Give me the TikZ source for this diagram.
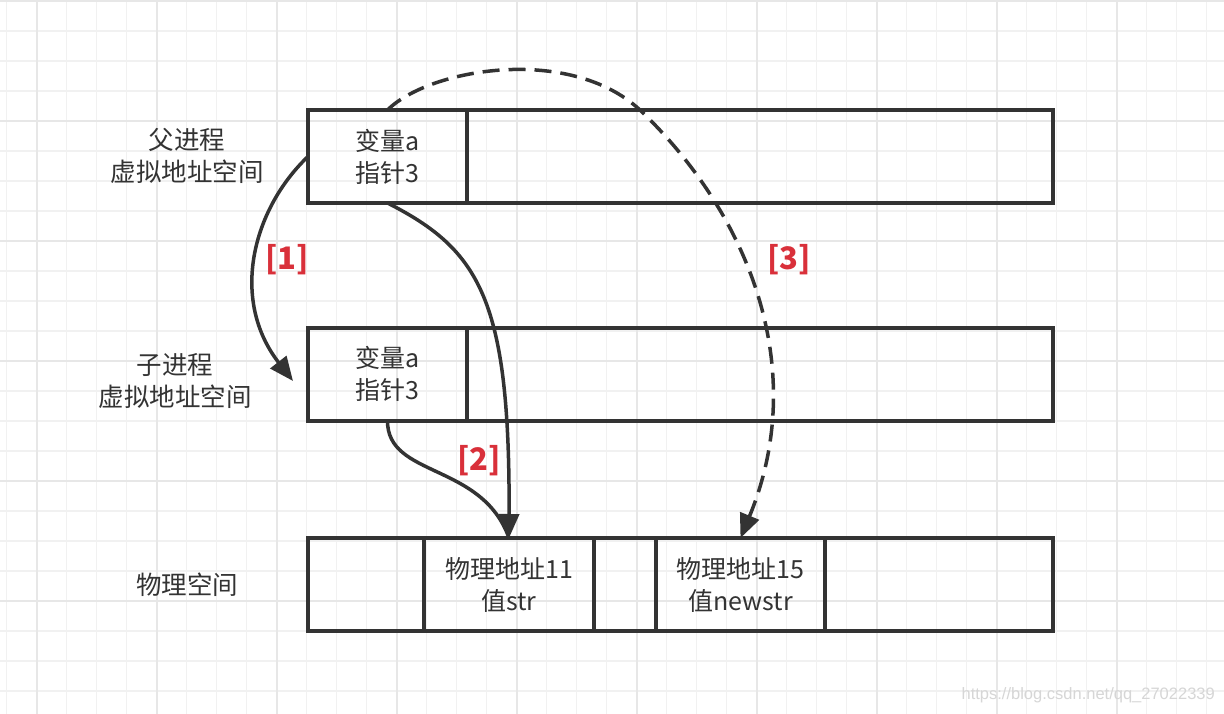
\documentclass[tikz,border=0pt]{standalone}
\usepackage{fontspec}
\newfontfamily\cjk{Noto Sans CJK SC}
\newfontfamily\wmfont{Liberation Sans}
\usetikzlibrary{arrows.meta}
\definecolor{ink}{HTML}{333333}
\definecolor{redlbl}{HTML}{D9303A}
\definecolor{gridminor}{HTML}{F1F1F1}
\definecolor{gridmajor}{HTML}{E7E7E7}
\definecolor{wmcol}{HTML}{D6D6D6}
\begin{document}
\begin{tikzpicture}[x=1pt,y=-1pt,
  cellbox/.style={draw=ink, line width=4pt, inner sep=0pt, outer sep=0pt,
    minimum height=93pt, font=\cjk\fontsize{25}{32}\selectfont, text=ink, align=center},
  sidelbl/.style={font=\cjk\fontsize{25.5}{32}\selectfont, text=ink, align=center},
  numlbl/.style={font=\cjk\bfseries\fontsize{31}{36}\selectfont, text=redlbl},
  arr/.style={draw=ink, line width=3.5pt, -{Triangle[length=24pt,width=20pt]}},
  plainarr/.style={draw=ink, line width=3.5pt},
  dasharr/.style={draw=ink, line width=3.5pt, dash pattern=on 17pt off 9pt,
    -{Triangle[length=24pt,width=20pt]}}
]
\useasboundingbox (0,0) rectangle (1224,714);
\fill[white] (0,0) rectangle (1224,714);
% grid
\foreach \i in {0,...,40} \draw[gridminor, line width=1.5pt] (6.7+30*\i,0) -- (6.7+30*\i,714);
\foreach \j in {0,...,23} \draw[gridminor, line width=1.5pt] (0,1+30*\j) -- (1224,1+30*\j);
\foreach \i in {0,...,9} \draw[gridmajor, line width=2pt] (36.7+120*\i,0) -- (36.7+120*\i,714);
\foreach \j in {0,...,5} \draw[gridmajor, line width=2pt] (0,1+120*\j) -- (1224,1+120*\j);

% left labels
\node[sidelbl] (L1) at (187,156) {父进程\\虚拟地址空间};
\node[sidelbl] (L2) at (175,381) {子进程\\虚拟地址空间};
\node[sidelbl] (L3) at (187,585) {物理空间};

% parent box
\node[cellbox, minimum width=159pt] (a1) at (387.5,156.5) {变量a\\指针3};
\node[cellbox, minimum width=586pt] (r1) at (760,156.5) {};
% child box
\node[cellbox, minimum width=159pt] (a2) at (387.5,374) {变量a\\指针3};
\node[cellbox, minimum width=586pt] (r2) at (760,374) {};
% physical
\node[cellbox, minimum width=116pt] (p0) at (366,584.5) {};
\node[cellbox, minimum width=170pt] (p11) at (509,584.5) {物理地址11\\值str};
\node[cellbox, minimum width=62pt] (pm) at (625,584.5) {};
\node[cellbox, minimum width=169pt] (p15) at (740.5,584.5) {物理地址15\\值newstr};
\node[cellbox, minimum width=228pt] (pr) at (939,584.5) {};

% connectors
\coordinate (e1) at (293,381);
\draw[arr] (a1.west) .. controls (252,210) and (230,300) .. (e1);
\draw[plainarr] (a2.south) .. controls (387,478) and (482,462) .. (p11.north);
\draw[arr] (a1.south) .. controls (480,250) and (510,300) .. (p11.north);
\draw[dasharr] (a1.north) .. controls (430,68) and (570,45) .. (640,110)
  .. controls (750,215) and (810,370) .. (p15.north);

% labels
\node[numlbl] (n1) at (287,260) {[1]};
\node[numlbl] (n2) at (479,461) {[2]};
\node[numlbl] (n3) at (789,260) {[3]};

% watermark
\node[font=\wmfont\fontsize{16.5}{20}\selectfont, text=wmcol, anchor=east, inner sep=0pt] (wm) at (1215,695) {https://blog.csdn.net/qq\_27022339};
\end{tikzpicture}
\end{document}
